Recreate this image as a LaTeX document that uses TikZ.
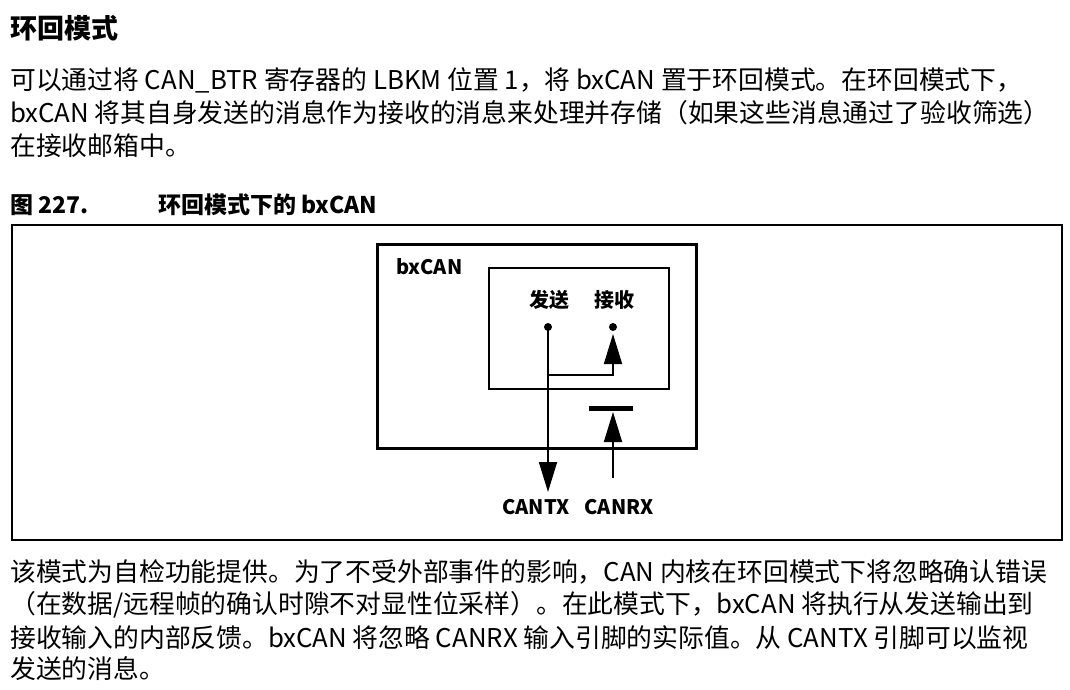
\documentclass[tikz,border=0pt]{standalone}
\usepackage{fontspec}
\setmainfont{Noto Sans CJK SC}
\usetikzlibrary{arrows.meta}
\tikzset{
  txt/.style={anchor=west,inner sep=0pt,font=\fontsize{25.8}{26}\selectfont},
  lbl/.style={inner sep=0pt,font=\bfseries\fontsize{20}{20}\selectfont},
  tri/.style={-{Triangle[length=30pt,width=18pt]}},
}
\begin{document}
\begin{tikzpicture}[x=1pt,y=-1pt]
\useasboundingbox (0,0) rectangle (1070,690);
\node[txt,font=\bfseries\fontsize{27}{27}\selectfont] (t) at (10,28) {环回模式};
\node[txt] (p1) at (10,80) {可以通过将 CAN\_BTR 寄存器的 LBKM 位置 1，将 bxCAN 置于环回模式。在环回模式下，};
\node[txt] (p2) at (10,113) {bxCAN 将其自身发送的消息作为接收的消息来处理并存储（如果这些消息通过了验收筛选）};
\node[txt] (p3) at (10,146) {在接收邮箱中。};
\node[txt,font=\bfseries\fontsize{23}{23}\selectfont] (c1) at (10,205) {图 227.};
\node[txt,font=\bfseries\fontsize{23}{23}\selectfont] (c2) at (158,205) {环回模式下的 bxCAN};
\draw[line width=1.2pt] (12,225) rectangle (1062,540);
\draw[line width=3pt] (377,244) rectangle (696,448);
\draw[line width=2pt] (489,268) rectangle (669,389);
\node[lbl,anchor=west] (bx) at (396,267) {bxCAN};
\node[lbl] (fs) at (549,300) {发送};
\node[lbl] (js) at (614,300) {接收};
\fill (548,327) circle (4) coordinate (d1);
\fill (613,327) circle (4) coordinate (d2);
\coordinate (br) at (548,375);
\coordinate (tx) at (548,492);
\coordinate (rxb) at (613,478);
\coordinate (rxt) at (613,412);
\draw[line width=5pt] (589,408) -- (633,408);
\draw[line width=1.8pt,tri] (d1) -- (tx);
\draw[line width=1.8pt,tri] (br) -| (613,334);
\draw[line width=1.8pt,tri] (rxb) -- (rxt);
\node[lbl] (ctx) at (536,507) {CANTX};
\node[lbl] (crx) at (619,507) {CANRX};
\node[txt] (q1) at (10,572) {该模式为自检功能提供。为了不受外部事件的影响，CAN 内核在环回模式下将忽略确认错误};
\node[txt] (q2) at (10,605) {（在数据/远程帧的确认时隙不对显性位采样）。在此模式下，bxCAN 将执行从发送输出到};
\node[txt] (q3) at (10,638) {接收输入的内部反馈。bxCAN 将忽略 CANRX 输入引脚的实际值。从 CANTX 引脚可以监视};
\node[txt] (q4) at (10,669) {发送的消息。};
\end{tikzpicture}
\end{document}
